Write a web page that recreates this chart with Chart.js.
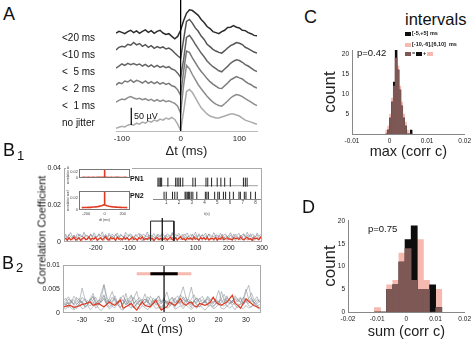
<!DOCTYPE html>
<html>
<head>
<meta charset="utf-8">
<script src="https://cdn.jsdelivr.net/npm/chart.js@4.4.1/dist/chart.umd.min.js"></script>
<style>
body { margin: 0; background: #fff; font-family: "Liberation Sans", Arial, sans-serif; }
#fig { position: relative; width: 474px; height: 341px; overflow: hidden; background: #fff; }
canvas { position: absolute; }
.t { position: absolute; white-space: pre; color: #111; line-height: 1; }
.sq { position: absolute; width: 6px; height: 4px; }
</style>
</head>
<body>
<div id="fig">
  <canvas id="cA" style="left:100px;top:0px" width="170" height="163"></canvas>
  <canvas id="cB1" style="left:30px;top:160px" width="240" height="95"></canvas>
  <canvas id="cIn1" style="left:66px;top:166px;background:#fff" width="66" height="24"></canvas>
  <canvas id="cIn2" style="left:66px;top:188px;background:#fff" width="66" height="34"></canvas>
  <canvas id="cRas" style="left:148px;top:170px" width="118" height="46"></canvas>
  <canvas id="cB2" style="left:30px;top:258px" width="240" height="83"></canvas>
  <canvas id="cC" style="left:318px;top:40px" width="156" height="125"></canvas>
  <canvas id="cD" style="left:318px;top:212px" width="156" height="129"></canvas>

  <div class="t" style="left:3px;top:5px;font-size:18px">A</div>
  <div class="t" style="left:3px;top:141px;font-size:18px">B</div>
  <div class="t" style="left:17px;top:149px;font-size:13px">1</div>
  <div class="t" style="left:2px;top:254px;font-size:18px">B</div>
  <div class="t" style="left:16px;top:261px;font-size:13px">2</div>
  <div class="t" style="left:304px;top:8px;font-size:18px">C</div>
  <div class="t" style="left:302px;top:198px;font-size:18px">D</div>
  <div class="t" style="left:42px;top:230px;font-size:11px;transform:translate(-50%,-50%) rotate(-90deg)">Correlation Coefficient</div>
  <div class="t" style="left:134px;top:112px;font-size:9px">50 µV</div>
  <div class="t" style="left:130px;top:175px;font-size:7px;font-weight:bold">PN1</div>
  <div class="t" style="left:130px;top:192px;font-size:7px;font-weight:bold">PN2</div>
  <div class="t" style="left:357px;top:48px;font-size:9.5px">p=0.42</div>
  <div class="t" style="left:368px;top:224px;font-size:9.5px">p=0.75</div>
  <div class="t" style="left:405px;top:11px;font-size:16.5px">intervals</div>
  <div class="sq" style="left:405px;top:32px;background:#0d0d0d"></div>
  <div class="t" style="left:412px;top:31px;font-size:5.5px;font-weight:bold">[-5,+5] ms</div>
  <div class="sq" style="left:405px;top:43px;background:#f5b9af"></div>
  <div class="t" style="left:412px;top:42px;font-size:5.5px;font-weight:bold">[-10,-6],[6,10]  ms</div>
  <div class="sq" style="left:405px;top:52px;background:#7d5855"></div>
  <div class="t" style="left:412px;top:51px;font-size:5.5px;font-weight:bold">=</div>
  <div class="sq" style="left:416px;top:52px;background:#0d0d0d"></div>
  <div class="t" style="left:423px;top:51px;font-size:5.5px;font-weight:bold">+</div>
  <div class="sq" style="left:427px;top:52px;background:#f5b9af"></div>
</div>
<script>
// ---------- data ----------
// A: field potential averages per jitter window (uV, relative to trace baseline), 5 ms steps
var jitterLabels = ['<20 ms', '<10 ms', '<  5 ms', '<  2 ms', '<  1 ms', 'no jitter'];
var lfp20 = [0,5,2,-2,4,8,1,6,-1,5,9,2,7,-1,5,8,0,-4,-2,-10,-17,-10,8,36,58,68,66,59,52,40,31,19,13,4,1,-2,4,8,16,17,22,17,15,8,7,1,-2,-7,-8];
var lfp10 = [0,8,11,9,17,14,22,15,19,11,16,8,13,5,10,6,9,3,6,0,-9,-17,-24,30,84,90,79,65,55,41,31,17,10,2,-3,-7,-9,-2,6,13,17,22,20,16,8,4,-1,-6,-9];
var lfp5 = [0,6,12,8,14,10,13,9,12,6,11,4,9,3,8,2,6,1,4,-3,-6,-15,-27,24,90,96,84,70,57,44,33,21,12,4,-2,-8,-11,-3,5,14,20,24,22,17,10,6,0,-6,-10];
var lfp2 = [0,7,4,12,9,15,8,14,11,6,12,5,10,4,9,3,7,2,5,-2,-5,-14,-30,40,100,96,80,66,52,40,30,19,10,3,-3,-9,-10,-2,6,15,20,25,21,18,11,5,1,-5,-9];
var lfp1 = [0,5,9,7,13,16,12,9,11,7,10,5,8,3,7,2,6,1,4,0,-4,-12,-33,48,108,98,81,66,51,39,28,17,8,0,-6,-10,-12,-5,3,12,18,22,20,16,10,5,0,-6,-10];
var lfp0 = [-18,-15,-12,-14,-9,-6,-9,-3,-6,0,-3,3,0,6,3,9,6,12,9,14,8,-6,-24,30,90,96,87,72,57,42,33,24,18,15,12,12,15,18,21,24,24,21,18,12,6,3,0,-3,-6];

// B1: correlation coefficient (x1e-4), 5 ms steps
var b1Red = [14,20,9,24,12,18,27,10,16,22,8,19,25,13,17,29,11,21,15,26,9,18,23,12,20,28,14,10,24,17,21,8,27,15,19,12,25,16,22,10,18,26,13,20,9,23,17,28,11,19,14,24,16,21,7,18,25,12,20,15,16,22,10,19,26,13,17,24,11,20,28,14,18,9,23,16,21,12,27,15,19,10,24,17,22,13,26,11,18,20,14,25,9,21,16,28,12,19,23,15,17,10,24,18,22,13,27,16,11,20,25,14,19,9,23,17,21,12,26,15];
var b1GreyA = [30,42,25,38,51,28,35,22,46,33,40,27,53,31,37,24,44,29,50,36,26,41,34,55,28,39,23,47,32,43,30,36,49,25,41,33,27,52,38,29,45,31,24,40,35,48,26,37,42,30,54,28,39,33,46,25,36,41,29,50,34,27,44,38,31,52,26,40,35,47,30,23,43,37,49,28,41,32,36,53,27,45,30,39,34,48,25,42,37,29,51,33,40,26,46,31,38,44,28,35,50,32,24,41,36,47,29,39,45,27,53,34,30,42,37,26,49,33,40,31];
var b1GreyB = [12,20,8,25,15,10,22,18,6,27,14,9,21,16,11,28,13,7,24,19,10,17,26,12,8,23,15,20,9,29,14,11,25,18,7,22,13,16,27,10,19,8,24,15,12,21,17,6,26,14,20,11,28,9,18,23,13,16,10,25,15,8,22,19,12,27,14,17,7,24,11,20,16,26,9,18,13,23,10,28,15,12,21,8,25,17,14,19,11,22,6,27,16,13,20,10,24,18,9,26,12,21,15,8,23,17,11,28,14,19,10,25,13,20,7,22,16,12,26,18];
var b1GreyC = [24,35,19,41,28,22,38,31,17,44,26,33,21,39,29,18,42,27,36,23,30,45,20,34,25,40,16,37,28,32,22,43,26,19,39,31,24,36,18,41,29,34,21,38,27,23,44,30,17,35,26,40,22,33,28,19,42,25,37,31,20,38,27,34,23,45,29,18,36,32,24,41,21,39,26,30,17,43,28,35,22,37,25,40,19,33,29,44,23,31,27,38,20,36,24,42,18,34,30,26,39,21,43,28,32,23,37,25,41,19,35,27,45,22,33,29,38,24,31,20];

// B1 insets: cross-correlograms (x1e-4)
var insLag = [-250,-225,-200,-175,-150,-125,-100,-75,-50,-25,-3,0,3,25,50,75,100,125,150,175,200,225,250];
var insTop = [18,21,17,22,19,23,20,24,21,25,22,300,23,24,20,22,19,21,23,18,20,22,19];
var insBottom = [38,41,40,44,43,48,50,55,62,72,86,300,84,70,60,54,49,47,44,42,40,41,39];

// B1 raster: spike times (s)
var spikesPN1 = [0.35,0.44,0.54,0.64,1.13,1.74,1.86,1.99,2.11,2.30,3.09,3.28,4.12,4.26,4.56,5.0,5.29,5.59,6.03,7.06,7.21,7.35];
var spikesPN2 = [0.83,1.0,1.49,1.67,1.86,2.48,2.55,2.65,2.74,2.84,2.96,3.09,3.40,4.07,4.19,4.31,4.80,5.05,5.17,5.49,5.66,5.98,6.27,6.71,6.82,7.13,7.26,7.63,8.0];

// B2: correlation coefficient (x1e-4), 1 ms steps
var b2Red = [13,14,16,15,12,13,15,18,19,21,23,16,18,20,16,13,18,23,19,16,22,27,10,13,16,20,12,6,15,23,16,14,13,20,27,15,6,10,13,23,19,16,22,30,20,16,21,23,15,13,20,18,16,19,23,33,23,19,16,20,23,30,37,20,16,10,20,30,24,20,15,13,10];
var b2Grey1 = [25,31,18,22,35,28,20,33,26,19,30,41,24,17,28,36,22,30,45,27,20,33,25,18,29,38,21,27,32,24,40,22,18,31,26,35,20,28,44,25,19,30,36,23,27,33,21,29,38,24,31,20,26,35,28,22,30,47,26,19,32,27,23,36,29,21,33,25,30,42,27,22,28];
var b2Grey2 = [12,8,15,10,6,14,18,9,11,16,7,13,20,10,5,12,17,8,14,11,19,9,6,13,16,10,22,12,8,15,11,7,14,18,9,12,6,16,10,13,20,8,11,15,9,17,12,7,14,10,18,11,6,13,16,9,12,20,10,8,15,11,14,7,17,12,9,16,10,13,19,11,8];
var b2Grey3 = [20,26,34,22,28,18,24,52,30,21,27,35,19,25,31,58,28,22,33,26,20,29,37,24,18,27,32,45,23,29,21,34,26,19,28,36,24,30,22,27,33,20,26,38,29,23,31,54,27,21,29,35,24,20,28,33,26,22,30,39,25,28,21,32,27,24,30,50,28,23,26,34,22];
var b2Grey4 = [15,22,19,28,17,24,30,21,16,26,20,27,33,18,23,29,16,25,21,31,19,24,28,17,22,35,20,26,18,23,29,25,16,21,30,24,19,27,22,18,25,31,20,24,17,28,23,19,26,32,21,18,25,29,20,23,27,17,22,30,24,19,26,21,28,33,18,24,20,27,22,19,25];
var b2Grey5 = [10,16,22,14,9,18,25,20,13,17,30,24,15,21,42,60,35,19,14,22,17,11,19,26,15,20,13,18,24,16,21,28,14,19,23,17,12,20,26,18,22,15,19,36,55,33,21,16,24,18,13,20,27,17,22,15,19,25,18,14,21,28,16,23,19,17,25,44,58,30,20,15,18];
var b2Grey6 = [22,17,29,24,19,33,26,21,30,18,25,34,20,27,23,31,19,28,24,36,21,26,18,30,25,22,33,19,27,24,29,21,35,26,20,28,23,31,18,25,32,22,27,20,34,24,29,19,26,31,23,28,21,33,25,19,30,24,27,22,36,20,26,29,23,31,18,27,24,32,21,28,25];
var b2Grey7 = [14,19,11,23,16,9,20,25,13,18,15,22,10,17,26,38,21,12,19,16,24,13,18,41,22,15,11,20,17,24,14,19,12,27,16,21,9,18,23,15,20,12,25,17,14,22,19,11,26,16,13,20,24,15,18,12,21,17,45,28,14,19,23,16,11,20,18,25,15,13,22,17,12];
var innerWindow = [-5, 5];
var outerWindow = [-10, 10];

// C: histogram of max(corr c)
var binsC = [-0.00075,-0.00025,0.00025,0.00075,0.00125,0.00175,0.00225,0.00275,0.00325,0.00375,0.00425,0.00475,0.00525,0.00575];
var cInner = [0,1,4,8,13,21,16,11,7,4,2,0,0,1];
var cOuter = [1,2,5,9,12,19,17,12,8,5,3,1,0,0];

// D: histogram of sum(corr c)
var binsD = [-0.0099,-0.0078,-0.0057,-0.0036,-0.0015,0.0006,0.0027,0.0048,0.0069,0.0090,0.0111];
var dInner = [0,0,5,6,11,16,19,5,5,6,1];
var dOuter = [1,0,6,7,13,14,7,16,7,0,5];

// ---------- helpers ----------
var E4 = 1e-4;
var BLACK = '#0d0d0d', PINK = '#f5b9af', BROWN = '#7d5855', RED = '#e23a22';
var NOGRID = { display: false, drawTicks: false };
Chart.defaults.font.family = '"Liberation Sans", Arial, sans-serif';
Chart.defaults.color = '#222';

function range(a, b, s) {
  var r = [];
  for (var v = a; v <= b + 1e-9; v += s) r.push(Math.round(v * 1000) / 1000);
  return r;
}
function pts(xs, ys, k, off) {
  return xs.map(function (x, i) { return { x: x, y: ys[i] * (k || 1) + (off || 0) }; });
}
function fixTicks(vals) { return function (s) { s.ticks = vals.map(function (v) { return { value: v }; }); }; }
function fitW(px) { return function (s) { s.width = px; }; }
function fitH(px) { return function (s) { s.height = px; }; }
function ln(data, color, width, order) {
  return { data: data, borderColor: color, borderWidth: width, pointRadius: 0, fill: false, order: order, tension: 0 };
}
function num(v) { return v === 0 ? '0' : String(v); }

var frame = {
  id: 'frame',
  afterDatasetsDraw: function (c, a, o) {
    if (!o || !o.color) return;
    var ca = c.chartArea, x = c.ctx;
    x.save();
    x.strokeStyle = o.color;
    x.lineWidth = 1;
    x.strokeRect(Math.round(ca.left) + 0.5, Math.round(ca.top) + 0.5, Math.round(ca.right - ca.left) - 1, Math.round(ca.bottom - ca.top) - 1);
    x.restore();
  }
};

function base(extra) {
  var o = {
    responsive: false, animation: false, devicePixelRatio: 1, events: [],
    plugins: { legend: { display: false }, tooltip: { enabled: false } },
    elements: { point: { radius: 0 } }
  };
  for (var k in extra) o[k] = extra[k];
  return o;
}

// ---------- A ----------
var lagA = range(-110, 130, 5);
var lfpTraces = [lfp20, lfp10, lfp5, lfp2, lfp1, lfp0];
var lfpOffset = [288, 238, 185, 135, 85, 26];
var lfpColor = ['#2b2b2b', '#555555', '#666666', '#7a7a7a', '#8d8d8d', '#ababab'];
var labelTop = [33, 50, 67, 84, 101, 118];
var fig = document.getElementById('fig');
jitterLabels.forEach(function (s, i) {
  var d = document.createElement('div');
  d.className = 't';
  d.style.left = '62px'; d.style.top = labelTop[i] + 'px'; d.style.fontSize = '10px';
  d.textContent = s;
  fig.appendChild(d);
});

var aSets = lfpTraces.map(function (tr, i) { return ln(pts(lagA, tr, 1, lfpOffset[i]), lfpColor[i], 1.5, 2); });
aSets.push(ln([{ x: 0, y: 0 }, { x: 0, y: 385 }], '#000', 1.3, 1));
aSets.push(ln([{ x: -84, y: 18 }, { x: -84, y: 68 }], '#000', 1.2, 1));

new Chart(document.getElementById('cA'), {
  type: 'line',
  data: { datasets: aSets },
  options: base({
    layout: { padding: { left: 16, right: 13, top: 0, bottom: 0 } },
    scales: {
      x: { type: 'linear', min: -110, max: 130, afterBuildTicks: fixTicks([-100, 0, 100]), afterFit: fitH(32),
           grid: NOGRID, border: { color: '#bbb' },
           ticks: { font: { size: 8 }, padding: 3, callback: num },
           title: { display: true, text: 'Δt (ms)', font: { size: 13 } } },
      y: { display: false, min: 0, max: 385 }
    }
  })
});

// ---------- B1 ----------
var lagB1 = range(-295, 300, 5);
var greyB1 = 'rgba(120,128,138,0.6)';
new Chart(document.getElementById('cB1'), {
  type: 'line',
  data: { datasets: [
    ln(pts(lagB1, b1GreyA, E4), greyB1, 0.9, 5),
    ln(pts(lagB1, b1GreyB, E4), greyB1, 0.9, 5),
    ln(pts(lagB1, b1GreyC, E4), greyB1, 0.9, 5),
    ln(pts(lagB1, b1Red, E4), RED, 1.3, 4),
    ln([{ x: 0, y: 0 }, { x: 0, y: 0.013 }], '#000', 1.2, 2),
    ln([{ x: -35, y: 0 }, { x: -35, y: 0.0113 }, { x: 35, y: 0.0113 }, { x: 35, y: 0 }], '#222', 1, 2)
  ] },
  plugins: [frame],
  options: base({
    layout: { padding: { left: 0, right: 7, top: 8, bottom: 0 } },
    plugins: { legend: { display: false }, tooltip: { enabled: false }, frame: { color: '#aaa' } },
    scales: {
      x: { type: 'linear', min: -295, max: 300, afterBuildTicks: fixTicks([-200, -100, 0, 100, 200, 300]), afterFit: fitH(13),
           grid: NOGRID, border: { display: false }, ticks: { font: { size: 7 }, padding: 2, callback: num } },
      y: { min: 0, max: 0.04, afterBuildTicks: fixTicks([0, 0.02, 0.04]), afterFit: fitW(34),
           grid: NOGRID, border: { display: false }, ticks: { font: { size: 7 }, padding: 3, callback: num } }
    }
  })
});

// insets
function insetChart(id, vals, showX) {
  new Chart(document.getElementById(id), {
    type: 'line',
    data: { datasets: [ln(pts(insLag, vals, E4), RED, 1.6, 1)] },
    plugins: [frame],
    options: base({
      layout: { padding: { left: 0, right: 2, top: 2, bottom: 0 } },
      plugins: { legend: { display: false }, tooltip: { enabled: false }, frame: { color: '#777' } },
      scales: {
        x: { type: 'linear', min: -280, max: 280, display: showX, afterBuildTicks: fixTicks([-200, 0, 200]), afterFit: fitH(12),
             grid: NOGRID, border: { display: false },
             ticks: { font: { size: 4 }, padding: 1, callback: num, color: '#444' },
             title: { display: true, text: 'dt (ms)', font: { size: 3.5 }, padding: 0, color: '#444' } },
        y: { min: 0, max: 0.03, afterBuildTicks: fixTicks([0, 0.02]), afterFit: fitW(13),
             grid: NOGRID, border: { display: false },
             ticks: { font: { size: 4 }, padding: 1, callback: num, color: '#444' },
             title: { display: true, text: 'correlation coef', font: { size: 3 }, padding: 0, color: '#444' } }
      }
    })
  });
}
insetChart('cIn1', insTop, false);
insetChart('cIn2', insBottom, true);

// raster
function spikes(times, row, r) {
  return { data: times.map(function (t) { return { x: t, y: row }; }), showLine: false,
           pointStyle: 'line', pointRotation: 90, pointRadius: r, pointBorderColor: '#222',
           pointBorderWidth: 1, borderColor: '#222', order: 1 };
}
new Chart(document.getElementById('cRas'), {
  type: 'line',
  data: { datasets: [
    spikes(spikesPN1, 1.65, 4.5),
    spikes(spikesPN2, 0.32, 4),
    ln([{ x: 0.3, y: 1.3 }, { x: 8.2, y: 1.3 }], '#888', 0.8, 2)
  ] },
  options: base({
    layout: { padding: { left: 0, right: 4, top: 0, bottom: 0 } },
    scales: {
      x: { type: 'linear', min: 0, max: 8.4, afterBuildTicks: fixTicks([1, 2, 3, 4, 5, 6, 7, 8]), afterFit: fitH(17),
           grid: NOGRID, border: { color: '#888' },
           ticks: { font: { size: 4.5 }, padding: 1, color: '#444' },
           title: { display: true, text: 't(s)', font: { size: 4 }, padding: 0, color: '#444' } },
      y: { display: false, min: 0, max: 2.3 }
    }
  })
});

// ---------- B2 ----------
var lagB2 = range(-37, 35, 1);
var greyB2 = 'rgba(125,133,142,0.5)';
var b2Greys = [b2Grey1, b2Grey2, b2Grey3, b2Grey4, b2Grey5, b2Grey6, b2Grey7];
var b2Sets = b2Greys.map(function (g) { return ln(pts(lagB2, g, E4), greyB2, 1, 6); });
b2Sets.push(ln(pts(lagB2, b2Red, E4), RED, 1.2, 5));
b2Sets.push(ln([{ x: outerWindow[0], y: 0.0082 }, { x: outerWindow[1], y: 0.0082 }], PINK, 3, 4));
b2Sets.push(ln([{ x: innerWindow[0], y: 0.0082 }, { x: innerWindow[1], y: 0.0082 }], '#000', 3, 3));
b2Sets.push(ln([{ x: 0, y: 0 }, { x: 0, y: 0.01 }], '#000', 1.2, 2));
new Chart(document.getElementById('cB2'), {
  type: 'line',
  data: { datasets: b2Sets },
  plugins: [frame],
  options: base({
    layout: { padding: { left: 0, right: 9, top: 6, bottom: 0 } },
    plugins: { legend: { display: false }, tooltip: { enabled: false }, frame: { color: '#aaa' } },
    scales: {
      x: { type: 'linear', min: -37, max: 35.5, afterBuildTicks: fixTicks([-30, -20, -10, 0, 10, 20, 30]), afterFit: fitH(28),
           grid: NOGRID, border: { display: false }, ticks: { font: { size: 7 }, padding: 3, callback: num },
           title: { display: true, text: 'Δt (ms)', font: { size: 13 } } },
      y: { min: 0, max: 0.01, afterBuildTicks: fixTicks([0, 0.005, 0.01]), afterFit: fitW(33),
           grid: NOGRID, border: { display: false }, ticks: { font: { size: 7 }, padding: 3, callback: num } }
    }
  })
});

// ---------- C & D histograms ----------
function hist(id, bins, inner, outer, xmin, xmax, xt, ymax, yt, xTitle, pad, axH, titlePadB) {
  var overlap = inner.map(function (v, i) { return Math.min(v, outer[i]); });
  function bar(vals, color, order) {
    return { data: bins.map(function (b, i) { return { x: b, y: vals[i] }; }), backgroundColor: color,
             borderWidth: 0, barPercentage: 1, categoryPercentage: 1, grouped: false, order: order };
  }
  new Chart(document.getElementById(id), {
    type: 'bar',
    data: { datasets: [bar(overlap, BROWN, 1), bar(inner, BLACK, 2), bar(outer, PINK, 3)] },
    options: base({
      layout: { padding: { left: pad.left, right: pad.right, top: pad.top, bottom: 0 } },
      scales: {
        x: { type: 'linear', min: xmin, max: xmax, offset: false, afterBuildTicks: fixTicks(xt), afterFit: fitH(axH),
             grid: NOGRID, border: { color: '#888' }, ticks: { font: { size: 6.5 }, padding: 3, callback: num },
             title: { display: true, text: xTitle, font: { size: 14.5 }, padding: { top: 2, bottom: titlePadB } } },
        y: { min: 0, max: ymax, afterBuildTicks: fixTicks(yt), afterFit: fitW(pad.yw),
             grid: NOGRID, border: { color: '#888' }, ticks: { font: { size: 6.5 }, padding: 3, callback: num },
             title: { display: true, text: 'count', font: { size: 17 }, padding: 2 } }
      }
    })
  });
}
hist('cC', binsC, cInner, cOuter, -0.01, 0.02, [-0.01, 0, 0.01, 0.02], 21, [5, 10, 15, 20], 'max (corr c)',
     { left: 0, right: 8, top: 10, yw: 34 }, 31, 4);
hist('cD', binsD, dInner, dOuter, -0.02, 0.02, [-0.02, -0.01, 0, 0.01, 0.02], 20.3, [0, 5, 10, 15, 20], 'sum (corr c)',
     { left: 0, right: 8, top: 8, yw: 30 }, 29, 0);
</script>
</body>
</html>
